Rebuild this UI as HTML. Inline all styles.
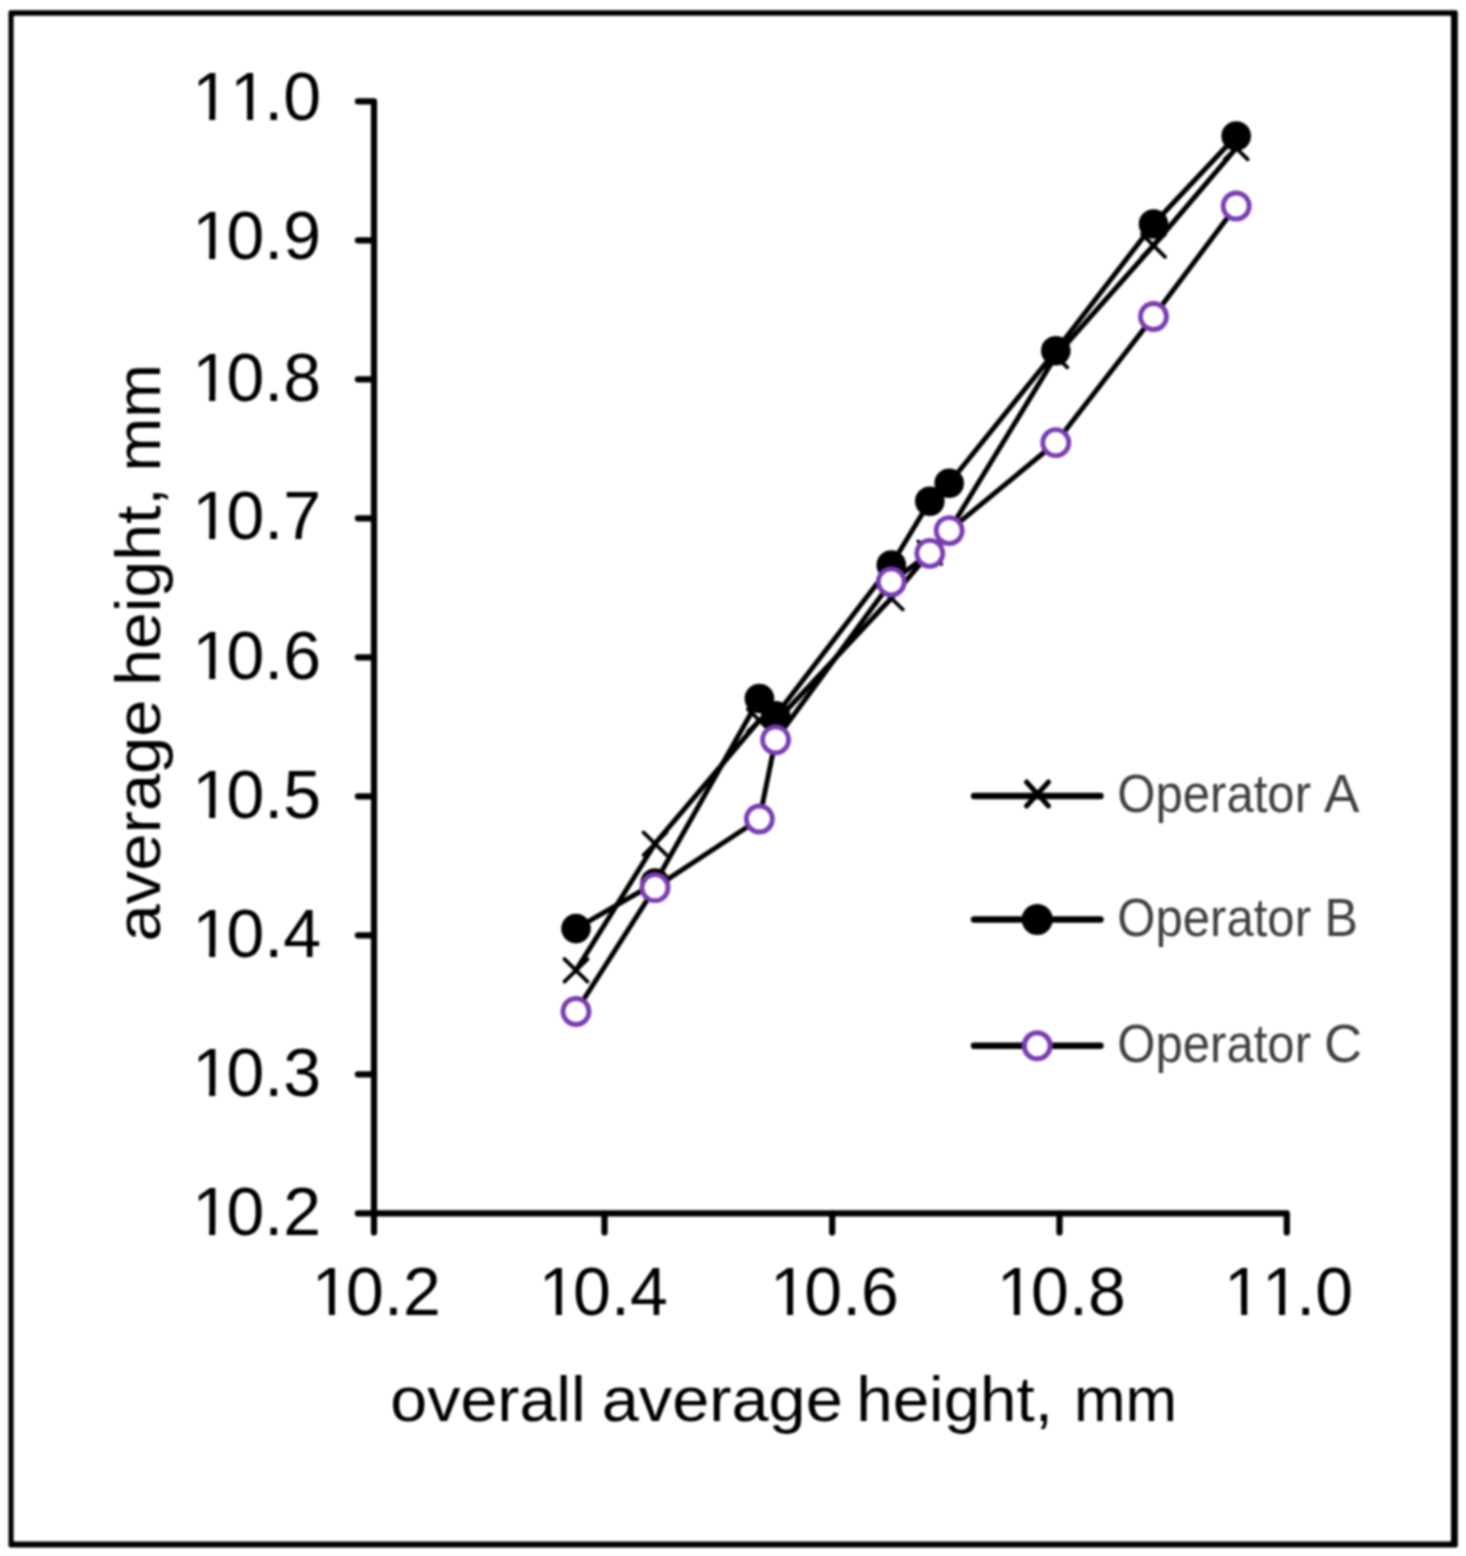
<!DOCTYPE html>
<html lang="en">
<head>
<meta charset="utf-8">
<title>Operator average height chart</title>
<style>
html,body{margin:0;padding:0;background:#fff;}
body{width:1466px;height:1556px;overflow:hidden;}
svg{display:block;filter:blur(0.8px);}
text{font-family:"Liberation Sans",Arial,Helvetica,sans-serif;font-kerning:none;}
.tick{font-size:68px;fill:#000;}
.title{font-size:63px;fill:#000;}
.leg{font-size:53.5px;fill:#404040;}
</style>
</head>
<body>
<svg width="1466" height="1556" viewBox="0 0 1466 1556">
<rect x="0" y="0" width="1466" height="1556" fill="#fff"/>
<!-- outer frame -->
<rect x="8.5" y="10.2" width="1449.3" height="1537.2" rx="2" ry="2" fill="#000"/>
<rect x="13.6" y="15.7" width="1437.4" height="1525.9" rx="1" ry="1" fill="#fff"/>

<g stroke="#000" stroke-width="6.2" stroke-linecap="round" stroke-linejoin="round" fill="none">
<path d="M357.9 101.3H374.0V1232.4"/>
<path d="M357.9 1213.4H1286.8V1232.4"/>
<path d="M357.9 240.3H374.0"/>
<path d="M357.9 379.3H374.0"/>
<path d="M357.9 518.3H374.0"/>
<path d="M357.9 657.3H374.0"/>
<path d="M357.9 796.3H374.0"/>
<path d="M357.9 935.3H374.0"/>
<path d="M357.9 1074.3H374.0"/>
<path d="M604.5 1213.4V1232.4"/>
<path d="M832.2 1213.4V1232.4"/>
<path d="M1059.5 1213.4V1232.4"/>
</g>
<g class="tick">
<text x="192.2 230.0 264.3 283.2" y="120.3">11.0</text>
<text x="192.2 226.5 264.3 283.2" y="259.2">10.9</text>
<text x="192.2 226.5 264.3 283.2" y="400.5">10.8</text>
<text x="192.2 226.5 264.3 283.2" y="539.3">10.7</text>
<text x="192.2 226.5 264.3 283.2" y="678.5">10.6</text>
<text x="192.2 226.5 264.3 283.2" y="818.2">10.5</text>
<text x="192.2 226.5 264.3 283.2" y="957.0">10.4</text>
<text x="192.2 226.5 264.3 283.2" y="1096.0">10.3</text>
<text x="192.2 226.5 264.3 283.2" y="1234.8">10.2</text>
<text x="311.8 346.1 384.0 402.9" y="1314.5">10.2</text>
<text x="538.8 573.1 611.0 629.9" y="1314.5">10.4</text>
<text x="770.0 804.3 842.2 861.1" y="1314.5">10.6</text>
<text x="996.8 1031.1 1069.0 1087.9" y="1314.5">10.8</text>
<text x="1224.1 1261.9 1296.3 1315.2" y="1314.5">11.0</text>
</g>
<g fill="#fff">
<rect x="194.8" y="113.6" width="14.4" height="9.2"/>
<rect x="215.3" y="113.6" width="13.9" height="9.2"/>
<rect x="232.7" y="113.6" width="14.4" height="9.2"/>
<rect x="253.1" y="113.6" width="13.9" height="9.2"/>
<rect x="194.8" y="252.5" width="14.4" height="9.2"/>
<rect x="215.3" y="252.5" width="13.9" height="9.2"/>
<rect x="194.8" y="393.8" width="14.4" height="9.2"/>
<rect x="215.3" y="393.8" width="13.9" height="9.2"/>
<rect x="194.8" y="532.6" width="14.4" height="9.2"/>
<rect x="215.3" y="532.6" width="13.9" height="9.2"/>
<rect x="194.8" y="671.8" width="14.4" height="9.2"/>
<rect x="215.3" y="671.8" width="13.9" height="9.2"/>
<rect x="194.8" y="811.5" width="14.4" height="9.2"/>
<rect x="215.3" y="811.5" width="13.9" height="9.2"/>
<rect x="194.8" y="950.3" width="14.4" height="9.2"/>
<rect x="215.3" y="950.3" width="13.9" height="9.2"/>
<rect x="194.8" y="1089.3" width="14.4" height="9.2"/>
<rect x="215.3" y="1089.3" width="13.9" height="9.2"/>
<rect x="194.8" y="1228.1" width="14.4" height="9.2"/>
<rect x="215.3" y="1228.1" width="13.9" height="9.2"/>
<rect x="314.5" y="1307.8" width="14.4" height="9.2"/>
<rect x="334.9" y="1307.8" width="13.9" height="9.2"/>
<rect x="541.5" y="1307.8" width="14.4" height="9.2"/>
<rect x="561.9" y="1307.8" width="13.9" height="9.2"/>
<rect x="772.7" y="1307.8" width="14.4" height="9.2"/>
<rect x="793.1" y="1307.8" width="13.9" height="9.2"/>
<rect x="999.5" y="1307.8" width="14.4" height="9.2"/>
<rect x="1019.9" y="1307.8" width="13.9" height="9.2"/>
<rect x="1226.8" y="1307.8" width="14.4" height="9.2"/>
<rect x="1247.2" y="1307.8" width="13.9" height="9.2"/>
<rect x="1264.6" y="1307.8" width="14.4" height="9.2"/>
<rect x="1285.1" y="1307.8" width="13.9" height="9.2"/>
</g>
<text class="title" y="1420.5" xml:space="preserve"><tspan x="390.3" textLength="195.5" lengthAdjust="spacingAndGlyphs">overall</tspan> <tspan x="601.7" textLength="241.1" lengthAdjust="spacingAndGlyphs">average</tspan> <tspan x="856.2" textLength="196.8" lengthAdjust="spacingAndGlyphs">height,</tspan>  <tspan x="1073.9" textLength="103.1" lengthAdjust="spacingAndGlyphs">mm</tspan></text>
<text class="title" transform="translate(159.5,940) rotate(-90)" xml:space="preserve"><tspan x="-1.4" textLength="242.0" lengthAdjust="spacingAndGlyphs">average</tspan> <tspan x="254.2" textLength="198.5" lengthAdjust="spacingAndGlyphs">height,</tspan>  <tspan x="468.5" textLength="107.4" lengthAdjust="spacingAndGlyphs">mm</tspan></text>
<polyline points="576.0,970.4 655.0,843.7 759.4,720.4 775.6,722.0 891.3,598.2 929.8,552.7 949.2,530.6 1055.8,356.0 1153.5,245.5 1236.2,148.1" fill="none" stroke="#000" stroke-width="5.0" stroke-linejoin="round" stroke-linecap="round"/>
<path d="M564.5 959.1L587.5 981.7M564.5 981.7L587.5 959.1" stroke="#000" stroke-width="3.8" stroke-linecap="round" fill="none"/>
<path d="M643.5 832.4L666.5 855.0M643.5 855.0L666.5 832.4" stroke="#000" stroke-width="3.8" stroke-linecap="round" fill="none"/>
<path d="M747.9 709.1L770.9 731.7M747.9 731.7L770.9 709.1" stroke="#000" stroke-width="3.8" stroke-linecap="round" fill="none"/>
<path d="M764.1 710.7L787.1 733.3M764.1 733.3L787.1 710.7" stroke="#000" stroke-width="3.8" stroke-linecap="round" fill="none"/>
<path d="M879.8 586.9L902.8 609.5M879.8 609.5L902.8 586.9" stroke="#000" stroke-width="3.8" stroke-linecap="round" fill="none"/>
<path d="M918.3 541.4L941.3 564.0M918.3 564.0L941.3 541.4" stroke="#000" stroke-width="3.8" stroke-linecap="round" fill="none"/>
<path d="M939.6 521.2L958.8 540.0M939.6 540.0L958.8 521.2" stroke="#000" stroke-width="3.8" stroke-linecap="round" fill="none"/>
<path d="M1044.3 344.7L1067.3 367.3M1044.3 367.3L1067.3 344.7" stroke="#000" stroke-width="3.8" stroke-linecap="round" fill="none"/>
<path d="M1142.0 234.2L1165.0 256.8M1142.0 256.8L1165.0 234.2" stroke="#000" stroke-width="3.8" stroke-linecap="round" fill="none"/>
<path d="M1224.7 136.8L1247.7 159.4M1224.7 159.4L1247.7 136.8" stroke="#000" stroke-width="3.8" stroke-linecap="round" fill="none"/>
<polyline points="576.0,928.6 655.0,883.0 759.4,698.5 775.6,715.7 891.3,565.0 929.8,501.3 949.2,483.2 1055.8,350.8 1153.5,224.0 1236.2,136.0" fill="none" stroke="#000" stroke-width="5.0" stroke-linejoin="round" stroke-linecap="round"/>
<circle cx="576.0" cy="928.6" r="14.8" fill="#000"/>
<circle cx="655.0" cy="883.0" r="14.8" fill="#000"/>
<circle cx="759.4" cy="698.5" r="14.8" fill="#000"/>
<circle cx="775.6" cy="715.7" r="14.8" fill="#000"/>
<circle cx="891.3" cy="565.0" r="14.8" fill="#000"/>
<circle cx="929.8" cy="501.3" r="14.8" fill="#000"/>
<circle cx="949.2" cy="483.2" r="14.8" fill="#000"/>
<circle cx="1055.8" cy="350.8" r="14.8" fill="#000"/>
<circle cx="1153.5" cy="224.0" r="14.8" fill="#000"/>
<circle cx="1236.2" cy="136.0" r="14.8" fill="#000"/>
<polyline points="576.0,1011.5 655.0,887.7 759.4,819.0 775.6,739.8 891.3,581.8 929.8,553.3 949.2,530.6 1055.8,442.7 1153.5,316.5 1236.2,206.0" fill="none" stroke="#000" stroke-width="5.0" stroke-linejoin="round" stroke-linecap="round"/>
<circle cx="576.0" cy="1011.5" r="13" fill="#fff" stroke="#7a3cb2" stroke-width="4.8"/>
<circle cx="655.0" cy="887.7" r="13" fill="#fff" stroke="#7a3cb2" stroke-width="4.8"/>
<circle cx="759.4" cy="819.0" r="13" fill="#fff" stroke="#7a3cb2" stroke-width="4.8"/>
<circle cx="775.6" cy="739.8" r="13" fill="#fff" stroke="#7a3cb2" stroke-width="4.8"/>
<circle cx="891.3" cy="581.8" r="13" fill="#fff" stroke="#7a3cb2" stroke-width="4.8"/>
<circle cx="929.8" cy="553.3" r="13" fill="#fff" stroke="#7a3cb2" stroke-width="4.8"/>
<circle cx="949.2" cy="530.6" r="13" fill="#fff" stroke="#7a3cb2" stroke-width="4.8"/>
<circle cx="1055.8" cy="442.7" r="13" fill="#fff" stroke="#7a3cb2" stroke-width="4.8"/>
<circle cx="1153.5" cy="316.5" r="13" fill="#fff" stroke="#7a3cb2" stroke-width="4.8"/>
<circle cx="1236.2" cy="206.0" r="13" fill="#fff" stroke="#7a3cb2" stroke-width="4.8"/>
<g stroke="#000" stroke-width="6.4" stroke-linecap="round">
<path d="M974 796.0H1100.5"/>
<path d="M974 919.5H1100.5"/>
<path d="M974 1045.8H1100.5"/>
</g>
<path d="M1026.5 782.0L1048.5 806.0M1026.5 806.0L1048.5 782.0" stroke="#000" stroke-width="5" stroke-linecap="round" fill="none"/>
<circle cx="1037.2" cy="919.5" r="15.5" fill="#000"/>
<circle cx="1037.2" cy="1045.8" r="13" fill="#fff" stroke="#7a3cb2" stroke-width="5"/>
<text class="leg" y="812.2" xml:space="preserve"><tspan x="1117.3" textLength="193.7" lengthAdjust="spacingAndGlyphs">Operator</tspan> <tspan x="1323.9" textLength="35.4" lengthAdjust="spacingAndGlyphs">A</tspan></text>
<text class="leg" y="935.8" xml:space="preserve"><tspan x="1117.3" textLength="193.7" lengthAdjust="spacingAndGlyphs">Operator</tspan> <tspan x="1324.6" textLength="33.5" lengthAdjust="spacingAndGlyphs">B</tspan></text>
<text class="leg" y="1061.8" xml:space="preserve"><tspan x="1117.3" textLength="193.7" lengthAdjust="spacingAndGlyphs">Operator</tspan> <tspan x="1324.1" textLength="38.1" lengthAdjust="spacingAndGlyphs">C</tspan></text>
</svg>
</body>
</html>
